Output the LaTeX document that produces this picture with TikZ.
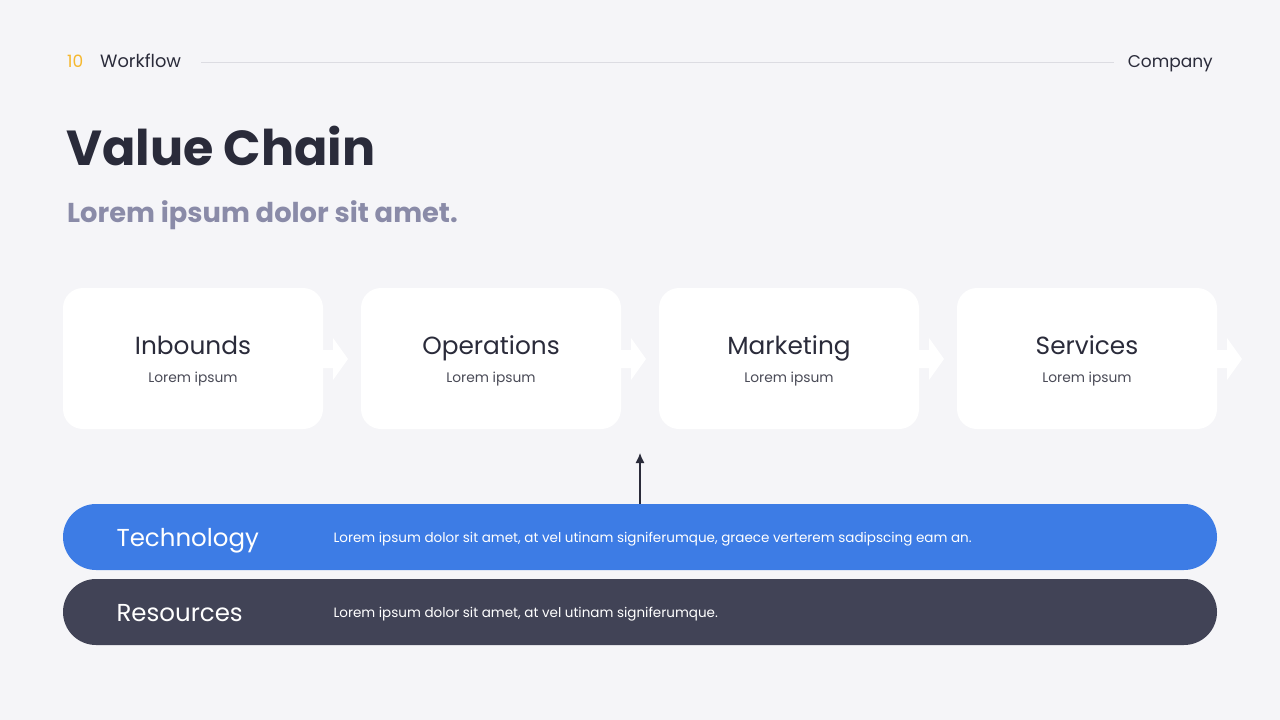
\documentclass[tikz,border=0pt]{standalone}
\usepackage{fontspec}
\setmainfont{Poppins}
\usetikzlibrary{positioning,arrows.meta}
\definecolor{bg}{HTML}{F5F5F8}
\definecolor{ink}{HTML}{2A2B3A}
\definecolor{sub}{HTML}{8A8BA8}
\definecolor{techblue}{HTML}{3D7CE5}
\definecolor{resdark}{HTML}{414356}
\definecolor{gold}{HTML}{F5B82E}
\definecolor{rule}{HTML}{DCDCE2}
\tikzset{
  stagebox/.style={fill=white,rounded corners=20pt,minimum width=260pt,minimum height=141pt,inner sep=0pt},
  stagetitle/.style={anchor=base,text=ink,font=\fontsize{24.8}{30}\selectfont},
  stagesub/.style={anchor=base,text=ink!85,font=\fontsize{13.8}{16}\selectfont},
  bar/.style={rounded corners=33pt,minimum width=1154pt,minimum height=66pt,inner sep=0pt},
  barlabel/.style={anchor=base west,text=white,font=\fontsize{24.5}{28}\selectfont},
  bartext/.style={anchor=base west,text=white,font=\fontsize{13.5}{16}\selectfont},
}
\begin{document}
\begin{tikzpicture}[x=1pt,y=-1pt]
\fill[bg] (0,0) rectangle (1280,720);
\useasboundingbox (0,0) rectangle (1280,720);
\node[anchor=base west,text=gold,font=\fontsize{17}{20}\selectfont,inner sep=0pt] (num) at (67,67) {10};
\node[anchor=base west,text=ink,font=\fontsize{17.8}{20}\selectfont,inner sep=0pt] (sect) at (100,67) {Workflow};
\node[anchor=base east,text=ink,font=\fontsize{17}{20}\selectfont,inner sep=0pt] (comp) at (1213,67) {Company};
\coordinate (ruleA) at (201,62);
\coordinate (ruleB) at (1114,62);
\draw[rule,line width=0.8pt] (ruleA)--(ruleB);
\node[anchor=base west,text=ink,font=\fontsize{49.2}{56}\selectfont\bfseries,inner sep=0pt] (title) at (66,165) {Value Chain};
\node[anchor=base west,text=sub,font=\fontsize{27.3}{32}\selectfont\bfseries,inner sep=0pt] (subtitle) at (67,222) {Lorem ipsum dolor sit amet.};
\foreach \x/\name [count=\i] in {193/Inbounds,491/Operations,789/Marketing,1087/Services}{
  \node[stagebox] (stage\i) at (\x,358.5) {};
  \node[stagetitle] (stage\i T) at (\x,354) {\name};
  \node[stagesub] (stage\i S) at (\x,382) {Lorem ipsum};
  \fill[white] ({\x+128},350)--({\x+140},350)--({\x+140},338)--({\x+155},359)--({\x+140},380)--({\x+140},368)--({\x+128},368)--cycle;
}
\node[bar,fill=techblue] (tech) at (640,537) {};
\node[bar,fill=resdark] (res) at (640,612) {};
\node[barlabel] (techL) at (113,546) {Technology};
\node[bartext] (techT) at (330,542) {Lorem ipsum dolor sit amet, at vel utinam signiferumque, graece verterem sadipscing eam an.};
\node[barlabel] (resL) at (113,621) {Resources};
\node[bartext] (resT) at (330,617) {Lorem ipsum dolor sit amet, at vel utinam signiferumque.};
\coordinate (up) at (640,453);
\draw[ink,line width=1.2pt,-{Latex[length=10pt,width=9pt]}] (tech.north)--(up);
\end{tikzpicture}
\end{document}
